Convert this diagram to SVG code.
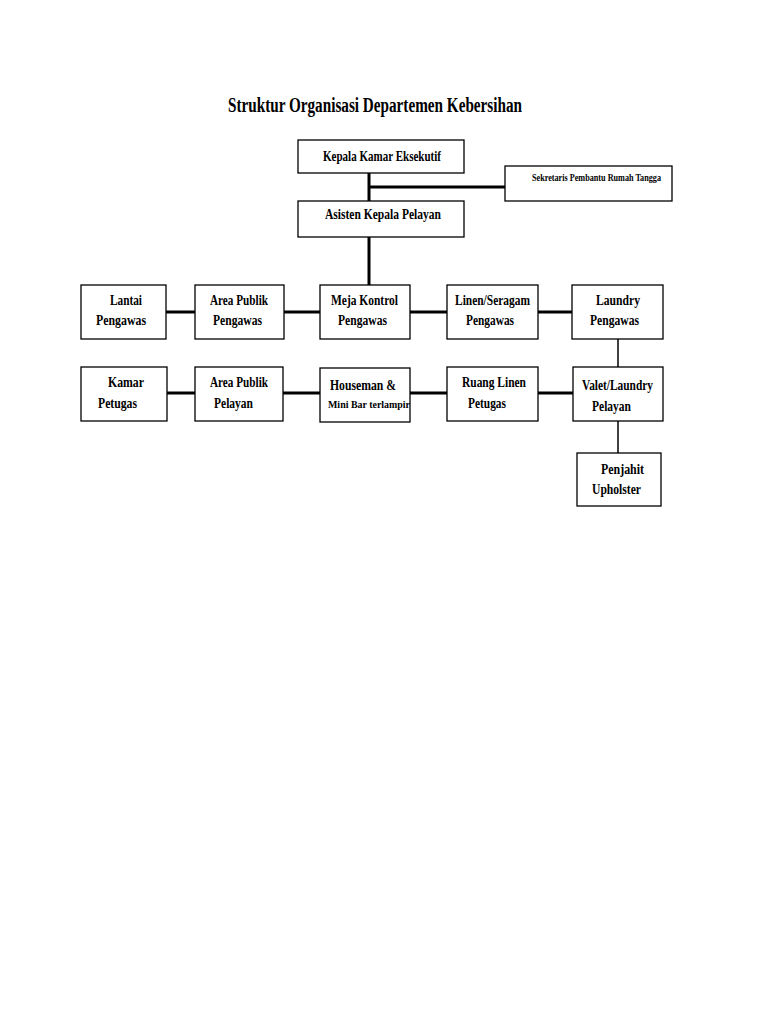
<svg xmlns="http://www.w3.org/2000/svg" width="768" height="1024" viewBox="0 0 768 1024">
<style>
.box{fill:#fff;stroke:#000;stroke-width:1.3}
.t{font-family:"Liberation Serif","Times New Roman",serif;font-weight:bold;font-size:15px;fill:#000}
.s{font-family:"Liberation Serif","Times New Roman",serif;font-weight:bold;font-size:10px;fill:#000}
.ttl{font-family:"Liberation Serif","Times New Roman",serif;font-weight:bold;font-size:20px;fill:#000}
.c{stroke:#000;stroke-width:3;fill:none}
.cn{stroke:#000;stroke-width:1.5;fill:none}
</style>
<rect width="768" height="1024" fill="#fff"/>
<text class="ttl" x="228" y="112" textLength="294" lengthAdjust="spacingAndGlyphs">Struktur Organisasi Departemen Kebersihan</text>
<g id="connectors">
<line class="c" x1="369" y1="173" x2="369" y2="201"/>
<line class="c" x1="369" y1="187" x2="505" y2="187"/>
<line class="c" x1="369" y1="237" x2="369" y2="285"/>
<line class="c" x1="166" y1="312" x2="195" y2="312"/>
<line class="c" x1="284" y1="312" x2="320" y2="312"/>
<line class="c" x1="410" y1="312" x2="447" y2="312"/>
<line class="c" x1="538" y1="312" x2="572" y2="312"/>
<line class="c" x1="167" y1="393" x2="195" y2="393"/>
<line class="c" x1="283" y1="393" x2="320" y2="393"/>
<line class="c" x1="410" y1="393" x2="447" y2="393"/>
<line class="c" x1="538" y1="393" x2="573" y2="393"/>
<line class="cn" x1="618" y1="339" x2="618" y2="367"/>
<line class="cn" x1="618" y1="421" x2="618" y2="453"/>
</g>
<g id="kepala">
<rect class="box" x="298" y="140" width="166" height="33"/>
<text class="t" x="323" y="161" textLength="118" lengthAdjust="spacingAndGlyphs">Kepala Kamar Eksekutif</text>
</g>
<g id="sekretaris">
<rect class="box" x="505" y="166" width="167" height="35"/>
<text class="s" x="532" y="181" textLength="129" lengthAdjust="spacingAndGlyphs">Sekretaris Pembantu Rumah Tangga</text>
</g>
<g id="asisten">
<rect class="box" x="298" y="201" width="166" height="36"/>
<text class="t" x="325" y="219" textLength="116" lengthAdjust="spacingAndGlyphs">Asisten Kepala Pelayan</text>
</g>
<g id="lantai">
<rect class="box" x="81" y="285" width="85" height="54"/>
<text class="t" x="110" y="305" textLength="32" lengthAdjust="spacingAndGlyphs">Lantai</text>
<text class="t" x="96" y="325" textLength="50" lengthAdjust="spacingAndGlyphs">Pengawas</text>
</g>
<g id="areapublik1">
<rect class="box" x="195" y="285" width="89" height="54"/>
<text class="t" x="210" y="305" textLength="58" lengthAdjust="spacingAndGlyphs">Area Publik</text>
<text class="t" x="213" y="325" textLength="49" lengthAdjust="spacingAndGlyphs">Pengawas</text>
</g>
<g id="meja">
<rect class="box" x="320" y="285" width="90" height="54"/>
<text class="t" x="331" y="305" textLength="67" lengthAdjust="spacingAndGlyphs">Meja Kontrol</text>
<text class="t" x="338" y="325" textLength="49" lengthAdjust="spacingAndGlyphs">Pengawas</text>
</g>
<g id="linen">
<rect class="box" x="447" y="285" width="91" height="54"/>
<text class="t" x="455" y="305" textLength="75" lengthAdjust="spacingAndGlyphs">Linen/Seragam</text>
<text class="t" x="466" y="325" textLength="48" lengthAdjust="spacingAndGlyphs">Pengawas</text>
</g>
<g id="laundry">
<rect class="box" x="572" y="285" width="91" height="54"/>
<text class="t" x="596" y="305" textLength="44" lengthAdjust="spacingAndGlyphs">Laundry</text>
<text class="t" x="590" y="325" textLength="49" lengthAdjust="spacingAndGlyphs">Pengawas</text>
</g>
<g id="kamar">
<rect class="box" x="81" y="367" width="86" height="54"/>
<text class="t" x="108" y="387" textLength="36" lengthAdjust="spacingAndGlyphs">Kamar</text>
<text class="t" x="98" y="408" textLength="39" lengthAdjust="spacingAndGlyphs">Petugas</text>
</g>
<g id="areapublik2">
<rect class="box" x="195" y="367" width="88" height="54"/>
<text class="t" x="210" y="387" textLength="58" lengthAdjust="spacingAndGlyphs">Area Publik</text>
<text class="t" x="214" y="408" textLength="39" lengthAdjust="spacingAndGlyphs">Pelayan</text>
</g>
<g id="houseman">
<rect class="box" x="320" y="368" width="90" height="54"/>
<text class="t" x="330" y="390" textLength="66" lengthAdjust="spacingAndGlyphs">Houseman &amp;</text>
<text class="s" x="328" y="408" textLength="82" lengthAdjust="spacingAndGlyphs">Mini Bar terlampir</text>
</g>
<g id="ruanglinen">
<rect class="box" x="447" y="367" width="91" height="54"/>
<text class="t" x="462" y="387" textLength="64" lengthAdjust="spacingAndGlyphs">Ruang Linen</text>
<text class="t" x="468" y="408" textLength="38" lengthAdjust="spacingAndGlyphs">Petugas</text>
</g>
<g id="valet">
<rect class="box" x="573" y="367" width="90" height="54"/>
<text class="t" x="582" y="390" textLength="71" lengthAdjust="spacingAndGlyphs">Valet/Laundry</text>
<text class="t" x="592" y="411" textLength="39" lengthAdjust="spacingAndGlyphs">Pelayan</text>
</g>
<g id="penjahit">
<rect class="box" x="577" y="453" width="84" height="53"/>
<text class="t" x="601" y="474" textLength="43" lengthAdjust="spacingAndGlyphs">Penjahit</text>
<text class="t" x="592" y="494" textLength="49" lengthAdjust="spacingAndGlyphs">Upholster</text>
</g>
</svg>
